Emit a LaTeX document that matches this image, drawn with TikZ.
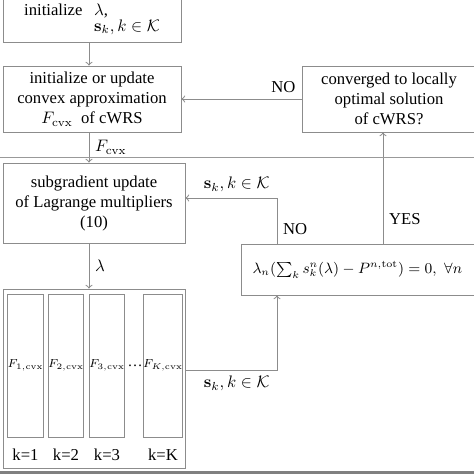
\documentclass[tikz,border=0pt]{standalone}
\usepackage[no-math]{fontspec}
\setmainfont{Liberation Serif}
\usepackage{amsmath}
\usepackage{amsfonts}
\usetikzlibrary{positioning}

\begin{document}
\begin{tikzpicture}[->,>=to,semithick,color=gray!90,text=black,x=0.6pt,y=-0.6pt,node distance=178.2pt]
		\tikzstyle{block}=[draw=gray!90,text=black,align=center]
		\tikzstyle{slot}=[draw=gray!90,text=black,minimum width=21pt,minimum height=85.8pt,inner sep=0pt,font=\scriptsize]
		\useasboundingbox (0,0) rectangle (474,474);
		\clip (0,0) rectangle (474,474);
		\node[block,minimum width=106.8pt,minimum height=25.8pt] (A) at (92,19.5) {\begin{tabular}{@{}l@{\hspace{7pt}}l@{}}initialize & $\lambda$,\\[-3pt] & $\mathbf{s}_k, k\in\mathcal{K}$\end{tabular}};
		\node[block,minimum width=106.8pt,minimum height=39.6pt] (B) at (92,99) {initialize or update\\convex approximation\\$F_{\mathrm{cvx}}$\ \ of cWRS};
		\node[block,minimum width=109.2pt,minimum height=48pt] (C) at (94,203) {subgradient update\\of Lagrange multipliers\\(10)};
		\node[block,minimum width=109.2pt,minimum height=107.4pt] (D) at (94,378.5) {};
		\node[slot] (D1) at (25.5,365.5) {$F_{1,\mathrm{cvx}}$};
		\node[slot] (D2) at (66,365.5)   {$F_{2,\mathrm{cvx}}$};
		\node[slot] (D3) at (107,365.5)  {$F_{3,\mathrm{cvx}}$};
		\node[slot] (DK) at (163,365.5)  {$F_{K,\mathrm{cvx}}$};
		\node[font=\small] (Dd) at (135,366) {\ldots};
		\node[below=3pt of D1] (L1) {k=1};
		\node[below=3pt of D2] (L2) {k=2};
		\node[below=3pt of D3] (L3) {k=3};
		\node[below=3pt of DK] (LK) {k=K};
		\node[block,minimum width=104.4pt,minimum height=39.6pt] (E)[right of=B] {converged to locally\\optimal solution\\of cWRS?};
		\node[block,minimum width=150pt,minimum height=30.6pt,anchor=west,inner xsep=6.6pt,text width=136.8pt,align=left,font=\small] (F) at (241,269.5) {$\lambda_n(\sum_k s_k^n(\lambda)-P^{n,\mathrm{tot}})=0,\ \forall n$};
		\coordinate (X) at (89,0);
		\coordinate (Y) at ([xshift=-3.6pt]E.south);
		% main column
		\draw (A.south -| X) -- (B.north -| X);
		\draw (B.south -| X) -- node[right] {$F_{\mathrm{cvx}}$} (C.north -| X);
		\draw (C.south -| X) -- node[right] {$\lambda$} (D.north -| X);
		% feedback paths
		\draw (E.west) -- node[above,pos=0.15] {NO} (B.east);
		\draw ([xshift=21.6pt]F.north west) |- node[right,pos=0.16] {NO} node[above,pos=0.72] {$\mathbf{s}_k, k\in\mathcal{K}$} ([yshift=3pt]C.east);
		\draw ([yshift=5pt]D.east) -| node[below,pos=0.28] {$\mathbf{s}_k, k\in\mathcal{K}$} ([xshift=21.6pt]F.south west);
		\draw (F.north -| Y) -- node[right,pos=0.22] {YES} (Y);
		% page rules
		\draw[-,gray!80,line width=0.9pt] (0,157.5) -- (474,157.5);
		\draw[-,gray,line width=1.8pt] (0,472.5) -- (474,472.5);
	\end{tikzpicture}
\end{document}
